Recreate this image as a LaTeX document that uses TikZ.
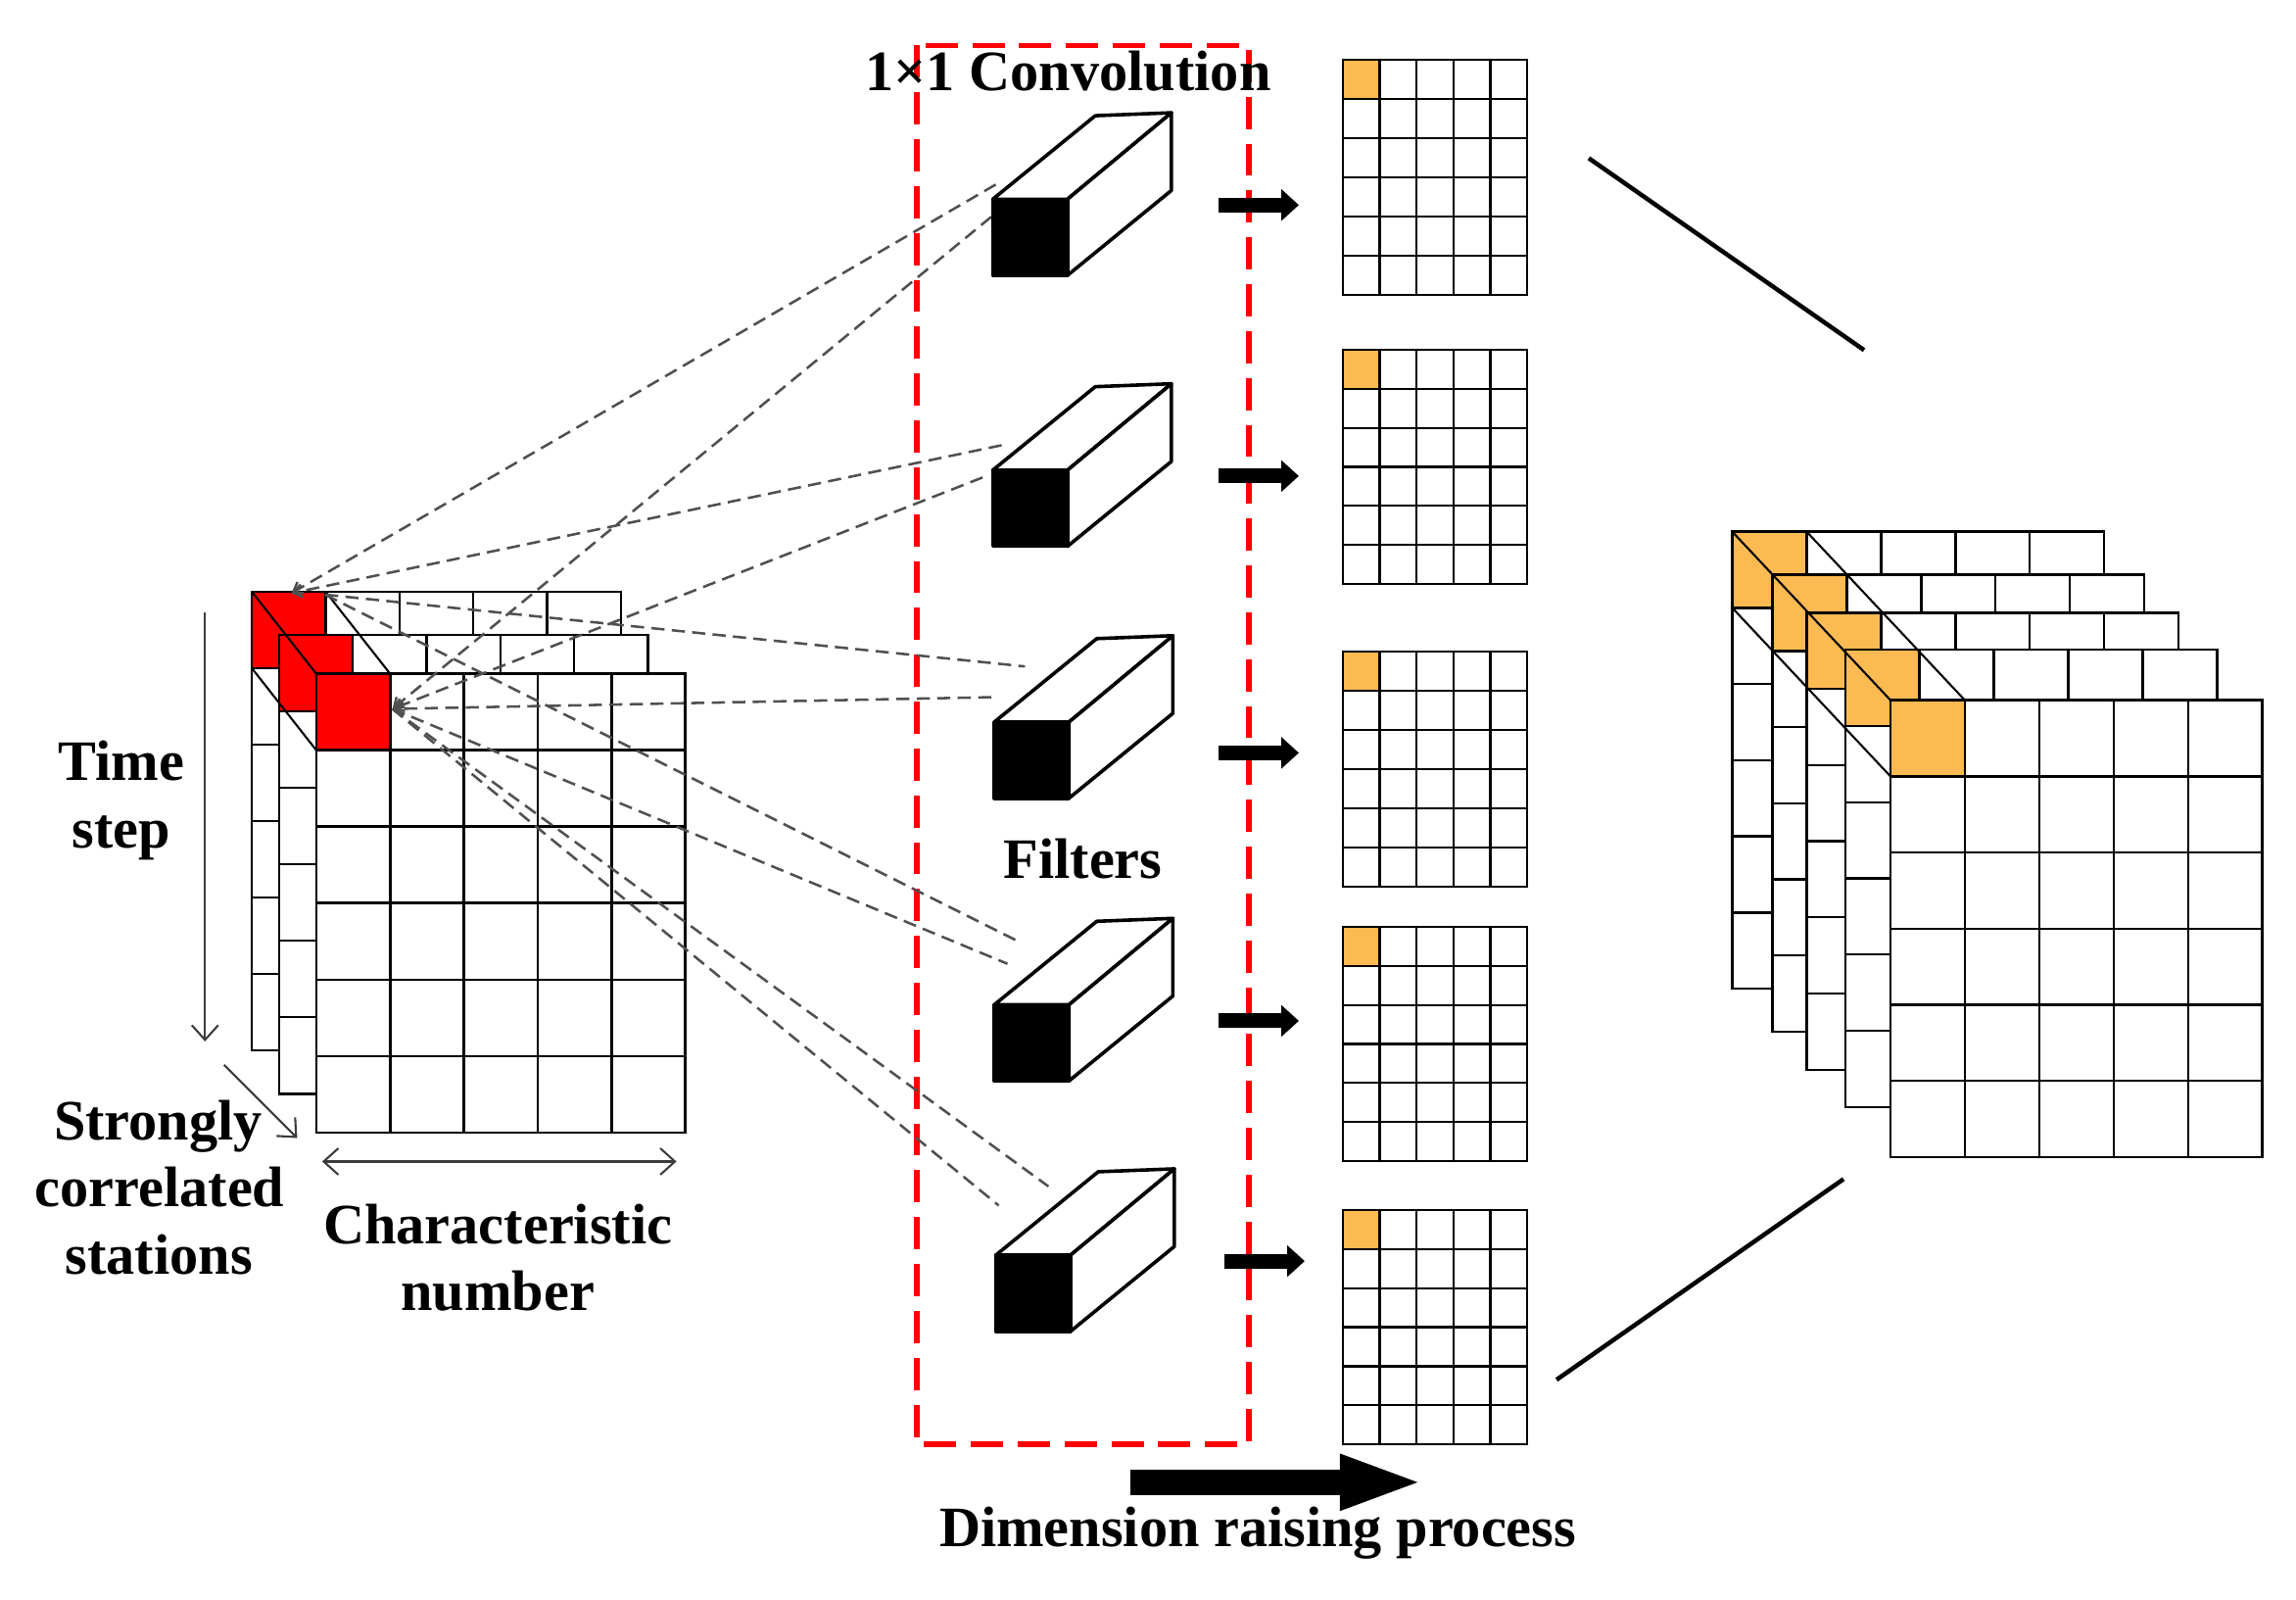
\documentclass[tikz,border=0pt]{standalone}
\usepackage{fontspec}
\setmainfont{Liberation Serif}
\usetikzlibrary{arrows.meta}
\definecolor{cellorange}{RGB}{252,186,82}
\definecolor{dashgray}{RGB}{80,80,80}
\definecolor{axisgray}{RGB}{60,60,60}
\definecolor{boxred}{RGB}{255,0,0}

\newcommand{\mylayer}[6]{%
  \begin{scope}[shift={(#1,#2)}]
    \fill[white] (0,0) rectangle ({5*#3},{6*#4});
    \fill[#5] (0,0) rectangle (#3,#4);
    \foreach \i in {0,...,5} {\draw[line width=#6, line cap=rect] ({\i*#3},0) -- ({\i*#3},{6*#4});}
    \foreach \j in {0,...,6} {\draw[line width=#6, line cap=rect] (0,{\j*#4}) -- ({5*#3},{\j*#4});}
  \end{scope}}

\newcommand{\mycuboid}[2]{%
  \begin{scope}[shift={(#1,#2)}, line width=2.4pt, line join=round]
    \fill[black] (0,0) rectangle (51,52);
    \draw[fill=white] (0,0) -- (70,-57) -- (122,-59) -- (51,0) -- cycle;
    \draw[fill=white] (51,0) -- (122,-59) -- (122,-6) -- (51,52) -- cycle;
    \draw (0,0) rectangle (51,52);
  \end{scope}}

\begin{document}
\begin{tikzpicture}[x=1pt, y=-1pt,
  lbl/.style={font=\fontsize{39}{46}\selectfont\bfseries, anchor=base, inner sep=0pt},
  dashline/.style={draw=dashgray, line width=1.7pt, dash pattern=on 9pt off 5pt},
  dashtip/.style={-{Straight Barb[length=6pt,width=9pt]}},
  axisarrow/.style={draw=axisgray, line width=1.4pt},
  fatarrow/.style={line width=10pt, -{Triangle[length=12pt 0 0, width=21pt 0 0]}},
  bigarrow/.style={line width=17pt, -{Triangle[length=58pt 0 0, width=34pt 0 0]}},
  longline/.style={line width=3pt}]
\useasboundingbox (0,0) rectangle (1568,1092);
\fill[white] (0,0) rectangle (1568,1092);

% ---------- left input stack ----------
\mylayer{172}{404}{50.4}{52.2}{red}{1.7pt}
\mylayer{190.5}{433.5}{50.4}{52.2}{red}{1.7pt}
\mylayer{216}{460}{50.4}{52.2}{red}{1.7pt}
\draw[line width=1.4pt] (172,404) -- (216,460);
\draw[line width=1.4pt] (222.4,404) -- (266.4,460);
\draw[line width=1.4pt] (172,456.2) -- (216,512.2);

% axis arrows
\coordinate (ts1) at (140,418);
\coordinate (ts2) at (140,711);
\coordinate (sc1) at (153,727);
\coordinate (sc2) at (203,777);
\coordinate (cn1) at (220,793);
\coordinate (cn2) at (462,793);
\draw[axisarrow, -{Straight Barb[length=10pt,width=18pt]}] (ts1) -- (ts2);
\draw[axisarrow, -{Straight Barb[length=10pt,width=18pt]}] (sc1) -- (sc2);
\draw[axisarrow, {Straight Barb[length=10pt,width=18pt]}-{Straight Barb[length=10pt,width=18pt]}] (cn1) -- (cn2);

% ---------- red dashed box ----------
\draw[boxred, line width=3.6pt, dash pattern=on 22pt off 10pt] (626,31) rectangle (853,986);

% ---------- dashed connectors ----------
\coordinate (pA) at (199,405);
\coordinate (pB) at (222,406);
\coordinate (pC) at (268,484);
\coordinate (f1a) at (680,126);
\coordinate (f1b) at (677,148);
\coordinate (f2a) at (684,304);
\coordinate (f2b) at (671,326);
\coordinate (f3a) at (700,455);
\coordinate (f3b) at (677,476);
\coordinate (f4a) at (694,642);
\coordinate (f4b) at (688,658);
\coordinate (f5a) at (716,810);
\coordinate (f5b) at (682,823);
\draw[dashline, dashtip] (f1a) -- (pA);
\draw[dashline, dashtip] (f1b) -- (pC);
\draw[dashline, dashtip] (f2a) -- (pA);
\draw[dashline, dashtip] (f2b) -- (pC);
\draw[dashline] (pB) -- (f3a);
\draw[dashline, dashtip] (f3b) -- (pC);
\draw[dashline] (pB) -- (f4a);
\draw[dashline] (pC) -- (f4b);
\draw[dashline] (pC) -- (f5a);
\draw[dashline] (pC) -- (f5b);

% ---------- filters ----------
\mycuboid{678}{136}
\mycuboid{678}{321}
\mycuboid{679}{493}
\mycuboid{679}{686}
\mycuboid{680}{857}

% ---------- small arrows ----------
\coordinate (a1s) at (832,140); \coordinate (a1e) at (887,140);
\coordinate (a2s) at (832,325); \coordinate (a2e) at (887,325);
\coordinate (a3s) at (832,514); \coordinate (a3e) at (887,514);
\coordinate (a4s) at (832,697); \coordinate (a4e) at (887,697);
\coordinate (a5s) at (836,861); \coordinate (a5e) at (891,861);
\foreach \k in {1,...,5} {\draw[fatarrow] (a\k s) -- (a\k e);}

% ---------- feature maps ----------
\mylayer{917}{41}{25.2}{26.7}{cellorange}{1.5pt}
\mylayer{917}{239}{25.2}{26.6}{cellorange}{1.5pt}
\mylayer{917}{445}{25.2}{26.7}{cellorange}{1.5pt}
\mylayer{917}{633}{25.2}{26.6}{cellorange}{1.5pt}
\mylayer{917}{826}{25.2}{26.7}{cellorange}{1.5pt}

% ---------- long lines ----------
\coordinate (l1a) at (1085,108); \coordinate (l1b) at (1273,239);
\coordinate (l2a) at (1063,942); \coordinate (l2b) at (1259,805);
\draw[longline] (l1a) -- (l1b);
\draw[longline] (l2a) -- (l2b);

% ---------- right output stack ----------
\mylayer{1183}{363}{50.8}{52}{cellorange}{1.6pt}
\mylayer{1210.4}{392.4}{50.8}{52}{cellorange}{1.6pt}
\mylayer{1233.8}{418.3}{50.8}{52}{cellorange}{1.6pt}
\mylayer{1260.1}{443.7}{50.8}{52}{cellorange}{1.6pt}
\mylayer{1291}{478}{50.8}{52}{cellorange}{1.6pt}
\draw[line width=1.4pt] (1183,363) -- (1291,478);
\draw[line width=1.4pt] (1233.8,363) -- (1341.8,478);
\draw[line width=1.4pt] (1183,415) -- (1291,530);

% ---------- big arrow ----------
\coordinate (bas) at (772,1012);
\coordinate (bae) at (973,1012);
\draw[bigarrow] (bas) -- (bae);

% ---------- labels ----------
\node[lbl] (conv) at (729.5,62) {1×1 Convolution};
\node[lbl] (filt) at (739.5,600) {Filters};
\node[lbl] (time) at (83,533) {Time};
\node[lbl] (step) at (83,579) {step};
\node[lbl] (str1) at (108,778) {Strongly};
\node[lbl] (str2) at (109,824) {correlated};
\node[lbl] (str3) at (108.5,870) {stations};
\node[lbl] (chr1) at (340,849) {Characteristic};
\node[lbl] (chr2) at (340,895) {number};
\node[lbl] (dim) at (859,1056) {Dimension raising process};
\end{tikzpicture}
\end{document}
